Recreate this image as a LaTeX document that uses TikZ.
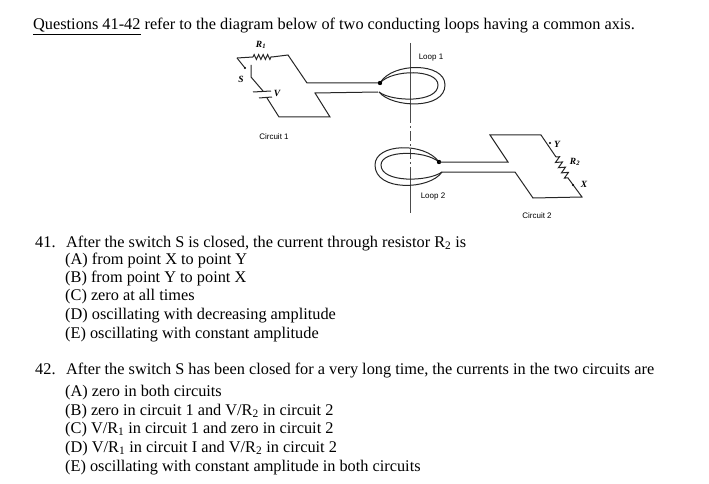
\documentclass[tikz,border=0pt]{standalone}
\usepackage{fontspec}
\setmainfont{Liberation Serif}
\setsansfont{Liberation Sans}
\usetikzlibrary{decorations.pathmorphing}
\tikzset{
  qtext/.style={anchor=base west,inner sep=0pt,font=\fontsize{16.3}{18}\selectfont},
  small/.style={inner sep=0pt,font=\fontsize{8}{9}\selectfont\sffamily},
  ital/.style={inner sep=0pt,font=\fontsize{9.5}{10}\selectfont\bfseries\itshape},
  wire/.style={line width=1pt,black!85},
  axisline/.style={line width=0.6pt,black!70},
  res/.style={wire,decorate,decoration={zigzag,amplitude=2.4pt,segment length=4.5pt}},
  res2/.style={wire,decorate,decoration={zigzag,amplitude=3.2pt,segment length=6pt}},
}
\begin{document}
\begin{tikzpicture}[x=1pt,y=-1pt]
\useasboundingbox (0,0) rectangle (709,484);
% question header
\node[qtext] (head) at (33,30) {\underline{Questions 41-42} refer to the diagram below of two conducting loops having a common axis.};
% axis
\draw[axisline] (410,43) -- (410,113);
\draw[axisline,dash pattern=on 10pt off 3pt on 2pt off 3pt] (410,113) -- (410,172);
\draw[axisline] (410,172) -- (410,213);
% circuit 1
\draw[wire] (237,58) -- (253,57) (272,57) -- (288,55) -- (307,83) -- (380,83);
\draw[res] (253,57) -- (272,57);
\draw[wire] (237,58) -- (245,68);
\fill (245,68) circle (1.2pt);
\draw[wire] (251,65) -- (251,77) -- (263,91);
\draw[wire] (267,98) -- (279,117) -- (330,117) -- (315,93) -- (378,92);
\draw[wire] (253,92) -- (271,91) (259,98) -- (272,97);
% loop 1
\draw[wire] (380,83) .. controls (392,62) and (445,62) .. (445,85) .. controls (445,110) and (392,108) .. (379,92);
\draw[wire] (380,83) .. controls (392,69) and (438,69) .. (438,85) .. controls (438,103) and (392,102) .. (379,92);
\fill (380,83) circle (2.2pt);
% loop 2
\draw[wire] (439,162) .. controls (425,142) and (375,143) .. (375,165) .. controls (375,192) and (430,190) .. (442,172);
\draw[wire] (439,162) .. controls (425,150) and (381,150) .. (381,165) .. controls (381,183) and (428,182) .. (442,172);
\fill (439,162) circle (2.2pt);
% circuit 2
\draw[wire] (439,162) -- (508,162) -- (490,135) -- (541,135) -- (556,157);
\draw[res2] (556,157) -- (568,178);
\draw[wire] (568,178) -- (582,197) -- (533,198) -- (515,172) -- (442,172);
\fill (550,143) circle (1.2pt) (573,185) circle (1.2pt);
% labels
\node[ital] (r1) at (261,45) {R\textsubscript{1}};
\node[ital] (sw) at (241,79) {S};
\node[ital] (volt) at (277,93) {V};
\node[small] (loop1) at (431,58) {Loop 1};
\node[small] (circ1) at (274,137) {Circuit 1};
\node[small] (loop2) at (433,197) {Loop 2};
\node[small] (circ2) at (537,216) {Circuit 2};
\node[ital] (py) at (557,144) {Y};
\node[ital] (r2) at (575,162) {R\textsubscript{2}};
\node[ital] (px) at (584,184) {X};
% question 41
\node[qtext] (q41) at (35,247) {41.};
\node[qtext] (q41t) at (66,247) {After the switch S is closed, the current through resistor R\textsubscript{2} is};
\node[qtext] (q41a) at (65,264) {(A) from point X to point Y};
\node[qtext] (q41b) at (65,282) {(B) from point Y to point X};
\node[qtext] (q41c) at (65,300) {(C) zero at all times};
\node[qtext] (q41d) at (65,319) {(D) oscillating with decreasing amplitude};
\node[qtext] (q41e) at (65,338) {(E) oscillating with constant amplitude};
% question 42
\node[qtext] (q42) at (35,374) {42.};
\node[qtext] (q42t) at (66,374) {After the switch S has been closed for a very long time, the currents in the two circuits are};
\node[qtext] (q42a) at (65,396) {(A) zero in both circuits};
\node[qtext] (q42b) at (65,415) {(B) zero in circuit 1 and V/R\textsubscript{2} in circuit 2};
\node[qtext] (q42c) at (65,433) {(C) V/R\textsubscript{1} in circuit 1 and zero in circuit 2};
\node[qtext] (q42d) at (65,452) {(D) V/R\textsubscript{1} in circuit I and V/R\textsubscript{2} in circuit 2};
\node[qtext] (q42e) at (65,471) {(E) oscillating with constant amplitude in both circuits};
\end{tikzpicture}
\end{document}
